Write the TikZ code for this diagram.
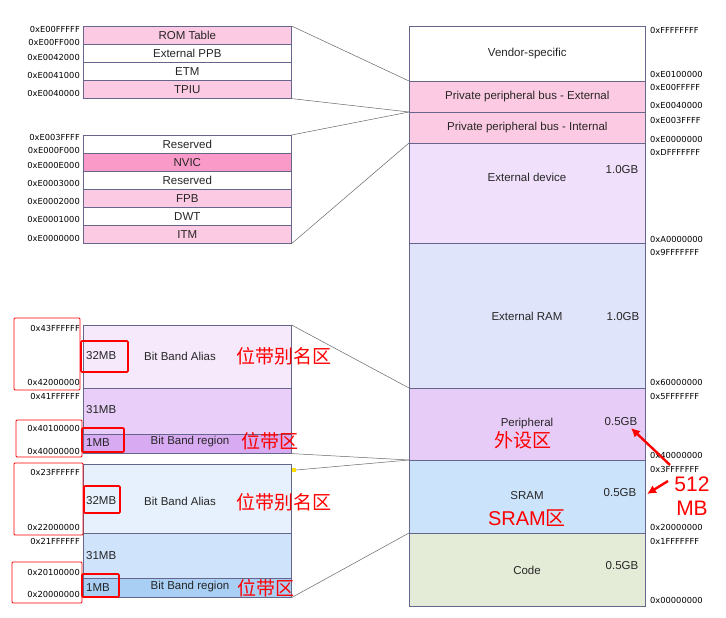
\documentclass[tikz,border=0pt]{standalone}
\usetikzlibrary{arrows.meta}
\usepackage{fontspec}
\setmainfont{Liberation Sans}
\newfontfamily\addrfont{DejaVu Sans}
\newfontfamily\cjk{Noto Sans CJK SC}
\begin{document}
\begin{tikzpicture}[x=1pt,y=-1pt,
  cell/.style={draw=black!75!blue!60, line width=0.6pt, anchor=north west, inner sep=0pt, font=\fontsize{11.5}{12}\selectfont, text=black!85},
  addr/.style={font=\addrfont\fontsize{8.3}{9}\selectfont, inner sep=0pt},
  laddr/.style={addr, anchor=east},
  raddr/.style={addr, anchor=west},
  zh/.style={font=\cjk\fontsize{19}{20}\selectfont, text=red, inner sep=0pt},
  rbox/.style={draw=red, line width=1.6pt, rounded corners=1pt},
  thinbox/.style={draw=red, line width=0.8pt, rounded corners=1pt},
  conn/.style={draw=gray!80!black, line width=0.5pt},
  sz/.style={font=\fontsize{11.5}{12}\selectfont, inner sep=0pt, text=black!85}]
\definecolor{pk}{HTML}{FCCAE2}
\definecolor{nv}{HTML}{F99AC8}
\definecolor{ed}{HTML}{F0E0FB}
\definecolor{er}{HTML}{E0E4FB}
\definecolor{pe}{HTML}{E8CCF8}
\definecolor{sr}{HTML}{CCE4FB}
\definecolor{cd}{HTML}{E4ECD8}
\definecolor{pa}{HTML}{F6E9FC}
\definecolor{pb}{HTML}{E8CEF8}
\definecolor{pc}{HTML}{D7AAF1}
\definecolor{ba}{HTML}{E7F1FD}
\definecolor{bb}{HTML}{CFE3FA}
\definecolor{bc}{HTML}{A9CFF5}
\useasboundingbox (0,0) rectangle (726,618);
% Right column
\node[cell,fill=white,minimum width=236pt,minimum height=55pt] (vs) at (409,26) {};
\node at (vs.center) [sz] {Vendor-specific};
\node[cell,fill=pk,minimum width=236pt,minimum height=31pt] (ppe) at (409,81) {Private peripheral bus - External};
\node[cell,fill=pk,minimum width=236pt,minimum height=31pt] (ppi) at (409,112) {Private peripheral bus - Internal};
\node[cell,fill=ed,minimum width=236pt,minimum height=100pt] (exd) at (409,143) {};
\node[sz] at (527,177) {External device};
\node[sz] at (622,170) {1.0GB};
\node[cell,fill=er,minimum width=236pt,minimum height=145pt] (exr) at (409,243) {};
\node[sz] at (527,316) {External RAM};
\node[sz] at (623,317) {1.0GB};
\node[cell,fill=pe,minimum width=236pt,minimum height=72pt] (per) at (409,388) {};
\node[sz] at (527,424) {Peripheral};
\node[sz] at (621,422) {0.5GB};
\node[cell,fill=sr,minimum width=236pt,minimum height=73pt] (srm) at (409,460) {};
\node[sz] at (527,496) {SRAM};
\node[sz] at (620,493) {0.5GB};
\node[cell,fill=cd,minimum width=236pt,minimum height=73pt] (cod) at (409,533) {};
\node[sz] at (527,570) {Code};
\node[sz] at (622,566) {0.5GB};
% right addresses
\foreach \a/\y in {FFFFFFFF/30,E0100000/74,E00FFFFF/87,E0040000/105,E003FFFF/120,E0000000/139,DFFFFFFF/152,A0000000/239,9FFFFFFF/252,60000000/382,5FFFFFFF/396,40000000/455,3FFFFFFF/469,20000000/527,1FFFFFFF/541,00000000/600}
  \node[raddr] at (650,\y) {0x\a};
% top-left table
\node[cell,fill=pk,minimum width=208pt,minimum height=18pt] (rom) at (83,26) {ROM Table};
\node[cell,fill=white,minimum width=208pt,minimum height=18pt] (eppb) at (83,44) {External PPB};
\node[cell,fill=white,minimum width=208pt,minimum height=18pt] (etm) at (83,62) {ETM};
\node[cell,fill=pk,minimum width=208pt,minimum height=18pt] (tpiu) at (83,80) {TPIU};
\foreach \a/\y in {E00FFFFF/29,E00FF000/42,E0042000/57,E0041000/75,E0040000/93}
  \node[laddr] at (80,\y) {0x\a};
\node[cell,fill=white,minimum width=208pt,minimum height=18pt] (res1) at (83,135) {Reserved};
\node[cell,fill=nv,minimum width=208pt,minimum height=18pt] (nvic) at (83,153) {NVIC};
\node[cell,fill=white,minimum width=208pt,minimum height=18pt] (res2) at (83,171) {Reserved};
\node[cell,fill=pk,minimum width=208pt,minimum height=18pt] (fpb) at (83,189) {FPB};
\node[cell,fill=white,minimum width=208pt,minimum height=18pt] (dwt) at (83,207) {DWT};
\node[cell,fill=pk,minimum width=208pt,minimum height=18pt] (itm) at (83,225) {ITM};
\foreach \a/\y in {E003FFFF/137,E000F000/150,E000E000/165,E0003000/183,E0002000/201,E0001000/219,E0000000/238}
  \node[laddr] at (80,\y) {0x\a};
% bit band peripheral
\node[cell,fill=pa,minimum width=208pt,minimum height=63pt] (pal) at (83,325) {};
\node[cell,fill=pb,minimum width=208pt,minimum height=46pt] (p31) at (83,388) {};
\node[cell,fill=pc,minimum width=208pt,minimum height=19pt] (preg) at (83,434) {};
\node[sz,anchor=west] at (86,356) {32MB};
\node[sz] at (180,356) {Bit Band Alias};
\node[sz,anchor=west] at (86,410) {31MB};
\node[sz,anchor=west] at (86,443) {1MB};
\node[sz] at (190,442) {Bit Band region};
% bit band SRAM
\node[cell,fill=ba,minimum width=208pt,minimum height=69pt] (sal) at (83,464) {};
\node[cell,fill=bb,minimum width=208pt,minimum height=45pt] (s31) at (83,533) {};
\node[cell,fill=bc,minimum width=208pt,minimum height=19pt] (sreg) at (83,578) {};
\node[sz,anchor=west] at (86,501) {32MB};
\node[sz] at (180,501) {Bit Band Alias};
\node[sz,anchor=west] at (86,556) {31MB};
\node[sz,anchor=west] at (86,588) {1MB};
\node[sz] at (190,587) {Bit Band region};
\node[fill=yellow!80!orange, minimum size=4pt, inner sep=0pt] (ysq) at (294,470) {};
\foreach \a/\y in {43FFFFFF/328,42000000/382,41FFFFFF/396,40100000/428,40000000/451,23FFFFFF/472,22000000/527,21FFFFFF/541,20100000/572,20000000/594}
  \node[laddr] at (80,\y) {0x\a};
% connectors
\draw[conn] (rom.north east) -- (ppe.north west);
\draw[conn] (tpiu.south east) -- (ppi.north west);
\draw[conn] (res1.north east) -- (ppi.north west);
\draw[conn] (itm.south east) -- (exd.north west);
\draw[conn] (pal.north east) -- (per.north west);
\draw[conn] (preg.south east) -- (srm.north west);
\draw[conn] (ysq.east) -- (srm.north west);
\draw[conn] (sreg.south east) -- (cod.north west);
% red boxes
\draw[thinbox] (14,318) rectangle (80,390);
\draw[thinbox] (16,420) rectangle (82,457);
\draw[thinbox] (14,463) rectangle (83,535);
\draw[thinbox] (12,562) rectangle (82,603);
\draw[rbox] (81,341) rectangle (128,372);
\draw[rbox] (82,428) rectangle (124,452);
\draw[rbox] (84,486) rectangle (120,513);
\draw[rbox] (82,574) rectangle (119,597);
% Chinese labels
\node[zh,anchor=west] (z1) at (236,356) {位带别名区};
\node[zh,anchor=west] (z2) at (241,441) {位带区};
\node[zh,anchor=west] (z3) at (236,502) {位带别名区};
\node[zh,anchor=west] (z4) at (237,588) {位带区};
\node[zh] (z5) at (523,440) {外设区};
\node[font=\fontsize{20}{21}\selectfont, text=red, inner sep=0pt] (z6) at (527,518) {SRAM\cjk 区};
\node[font=\fontsize{21}{22}\selectfont, text=red, inner sep=0pt] (n512) at (692,484) {512};
\node[font=\fontsize{21}{22}\selectfont, text=red, inner sep=0pt] (nmb) at (692,508) {MB};
\coordinate (a1) at (670,465);
\coordinate (a2) at (668,481);
\draw[red, line width=2.4pt, -{Latex[length=9pt,width=9pt]}] (a1) -- (631,428);
\draw[red, line width=2.4pt, -{Latex[length=9pt,width=9pt]}] (a2) -- (647,494);
\end{tikzpicture}
\end{document}
